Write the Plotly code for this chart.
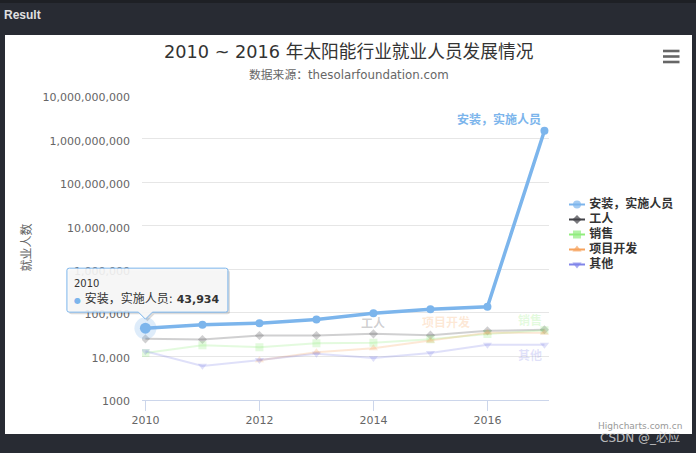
"""Solar employment chart, log y axis, with the 2010 point hovered."""

import numpy as np
import plotly.graph_objects as go

years = [2010, 2011, 2012, 2013, 2014, 2015, 2016, 2017]
installers = [43934, 52503, 57177, 69658, 97031, 119931, 137133, 1541750000]
workers = [24916, 24064, 29742, 29851, 32490, 30282, 38121, 40434]
sales = [11744, 17722, 16005, 19771, 20185, 24377, 32147, 39387]
projects = [None, None, 7988, 12169, 15112, 22452, 34400, 34227]
others = [12908, 5948, 8105, 11248, 8989, 11816, 18274, 18111]

names = ["安装，实施人员", "工人", "销售", "项目开发", "其他"]
colors = ["#7cb5ec", "#434348", "#90ed7d", "#f7a35c", "#8085e9"]
faded = ["rgba(124,181,236,1)", "rgba(67,67,72,0.25)", "rgba(144,237,125,0.25)",
         "rgba(247,163,92,0.25)", "rgba(128,133,233,0.25)"]
symbols = ["circle", "diamond", "square", "triangle-up", "triangle-down"]
marker_sizes = [8, 7, 8, 8, 8]
series = [installers, workers, sales, projects, others]

y_ticks = [1000, 10000, 100000, 1000000, 10000000, 100000000, 1000000000, 10000000000]
y_labels = ["1000", "10,000", "100,000", "1,000,000", "10,000,000", "100,000,000",
            "1,000,000,000", "10,000,000,000"]

FONT = "DejaVu Sans, Noto Sans CJK SC"
W, H = 696, 453

# plot area in page pixels
L, R, T, B = 142, 549, 95.5, 399.5
X_RANGE = [2009.94, 2017.08]
Y_RANGE = [3, 10]


def px(v):
    return v / W


def py(v):
    return 1 - v / H


fig = go.Figure()

# faded lines first, the highlighted one on top
for i in [1, 2, 3, 4, 0]:
    fig.add_scatter(x=years, y=series[i], mode="lines+markers", showlegend=False,
                    line=dict(color=faded[i], width=3.5 if i == 0 else 2),
                    marker=dict(color=faded[i], symbol=symbols[i], size=marker_sizes[i]))

# hover halo on the first point
fig.add_scatter(x=years[:1], y=installers[:1], mode="markers", showlegend=False,
                marker=dict(color="rgba(124,181,236,0.25)", size=22), cliponaxis=False)
fig.add_scatter(x=years[:1], y=installers[:1], mode="markers", showlegend=False,
                marker=dict(color=colors[0], size=11), cliponaxis=False)

# legend keys sit on their own small axes so the rows can be 15px apart
for i in range(5):
    fig.add_scatter(x=[0, 0.5, 1], y=[i, i, i], xaxis="x2", yaxis="y2", showlegend=False,
                    mode="lines+markers+text", cliponaxis=False,
                    line=dict(color=colors[i], width=2),
                    marker=dict(color=colors[i], symbol=symbols[i], size=[0, marker_sizes[i], 0], line_width=0),
                    text=["", "", "\u00a0" + names[i]], textposition="middle right",
                    textfont=dict(family=FONT, size=12, color="#333333", weight="bold"))

shapes = [
    dict(type="rect", xref="paper", yref="paper", x0=0, x1=1, y0=py(0), y1=py(3),
         fillcolor="#1e2025", line_width=0, layer="below"),
    dict(type="rect", xref="paper", yref="paper", x0=px(5), x1=px(692), y0=py(35), y1=py(434),
         fillcolor="white", line_width=0, layer="below"),
]
for yy in [51, 56.5, 62]:
    shapes.append(dict(type="line", xref="paper", yref="paper", x0=px(663), x1=px(679.5),
                       y0=py(yy), y1=py(yy), line=dict(color="#666666", width=2.6)))

# tooltip box with pointer, in pixels around the hovered point
# (paper anchor, because x/y shapes get clipped to the plot area)
tip_x = px(L + (years[0] - X_RANGE[0]) / (X_RANGE[1] - X_RANGE[0]) * (R - L))
tip_y = py(B - (np.log10(installers[0]) - Y_RANGE[0]) / (Y_RANGE[1] - Y_RANGE[0]) * (B - T))
tip = ("M -76,60 L 80,60 Q 82.5,60 82.5,58 L 82.5,18 Q 82.5,16 80,16 L 7,16 L 0,9 L -7,16 "
       "L -76,16 Q -78.5,16 -78.5,18 L -78.5,58 Q -78.5,60 -76,60 Z")
shadow = ("M -74,58 L 82,58 Q 84.5,58 84.5,56 L 84.5,16 Q 84.5,14 82,14 L 9,14 L 2,7 L -5,14 "
          "L -74,14 Q -76.5,14 -76.5,16 L -76.5,56 Q -76.5,58 -74,58 Z")
for path, fill, edge in [(shadow, "rgba(0,0,0,0.14)", "rgba(0,0,0,0)"),
                         (tip, "rgba(248,248,248,0.9)", colors[0])]:
    shapes.append(dict(type="path", xref="paper", yref="paper", xsizemode="pixel", ysizemode="pixel",
                       xanchor=tip_x, yanchor=tip_y, path=path,
                       fillcolor=fill, line=dict(color=edge, width=1)))


def note(x, y, text, size=12, color="#333333", bold=False, xshift=0, yshift=0, family=FONT, **kw):
    kw.setdefault("xanchor", "center")
    return dict(x=x, y=y, text=f"<b>{text}</b>" if bold else text, showarrow=False,
                font=dict(family=family, size=size, color=color), yanchor="middle",
                xshift=xshift, yshift=yshift, **kw)


annotations = [
    note(px(349), py(52), "2010 ~ 2016 年太阳能行业就业人员发展情况", size=17.7, xref="paper", yref="paper"),
    note(px(349), py(75), "数据来源：thesolarfoundation.com", size=11.8, color="#666666",
         xref="paper", yref="paper"),
    note(px(2), py(15.5), "Result", size=12, color="#e0e0e0", bold=True, xanchor="left",
         family="Liberation Sans", xref="paper", yref="paper"),
    note(px(684), py(426), "Highcharts.com.cn", size=9, color="#999999", xanchor="right",
         xref="paper", yref="paper"),
    note(px(682), py(437), "CSDN @_必应", size=12, color="rgba(225,225,225,0.8)", xanchor="right",
         xref="paper", yref="paper"),
    # data labels
    note(years[7], np.log10(installers[7]), names[0], color=colors[0], bold=True, xshift=-45.5, yshift=11),
    note(years[4], np.log10(workers[4]), names[1], color=faded[1], bold=True, yshift=10),
    note(years[5], np.log10(projects[5]), names[3], color=faded[3], bold=True, xshift=16, yshift=18),
    note(years[7], np.log10(sales[7]), names[2], color=faded[2], bold=True, xshift=-14.5, yshift=10),
    note(years[7], np.log10(others[7]), names[4], color=faded[4], bold=True, xshift=-14.5, yshift=-11),
    # tooltip text
    note(years[0], np.log10(installers[0]),
         f"<span style='font-size:10px'>{years[0]}</span><br>"
         f"<span style='color:{colors[0]};font-size:8px'>●</span> {names[0]}: "
         f"<b><span style='font-size:11px'>{installers[0]:,}</span></b>",
         xshift=4, yshift=36, align="left", width=150),
]

fig.update_layout(
    width=W, height=H,
    margin=dict(l=0, r=0, t=0, b=0, pad=0),
    paper_bgcolor="#282b33", plot_bgcolor="rgba(0,0,0,0)",
    font=dict(family=FONT, size=11, color="#666666"),
    shapes=shapes, annotations=annotations, hovermode=False, showlegend=False,
    xaxis=dict(domain=[px(L), px(R)], range=X_RANGE, automargin=False,
               tickvals=[2010, 2012, 2014, 2016], tickformat="d",
               showgrid=False, zeroline=False, showline=True, linecolor="#ccd6eb", linewidth=1,
               ticks="outside", ticklen=10, tickcolor="#ccd6eb", tickwidth=1,
               tickfont=dict(size=11, color="#666666")),
    yaxis=dict(domain=[py(B), py(T)], type="log", range=Y_RANGE, automargin=False,
               tickvals=y_ticks, ticktext=y_labels,
               gridcolor="#e6e6e6", gridwidth=1, zeroline=False, showline=False, ticks="",
               ticklabelstandoff=11, ticklabelshift=2, tickfont=dict(size=11, color="#666666"),
               title=dict(text="就业人数", font=dict(size=12, color="#666666"), standoff=8)),
    xaxis2=dict(domain=[px(569), px(585)], range=[0, 1], visible=False, anchor="y2",
                fixedrange=True, automargin=False),
    yaxis2=dict(domain=[py(272), py(197)], range=[4.5, -0.5], visible=False,
                anchor="x2", fixedrange=True, automargin=False),
)

fig.write_html("out.html", config=dict(displayModeBar=False),
               post_script="document.body.style.margin='0';document.body.style.overflow='hidden';")
